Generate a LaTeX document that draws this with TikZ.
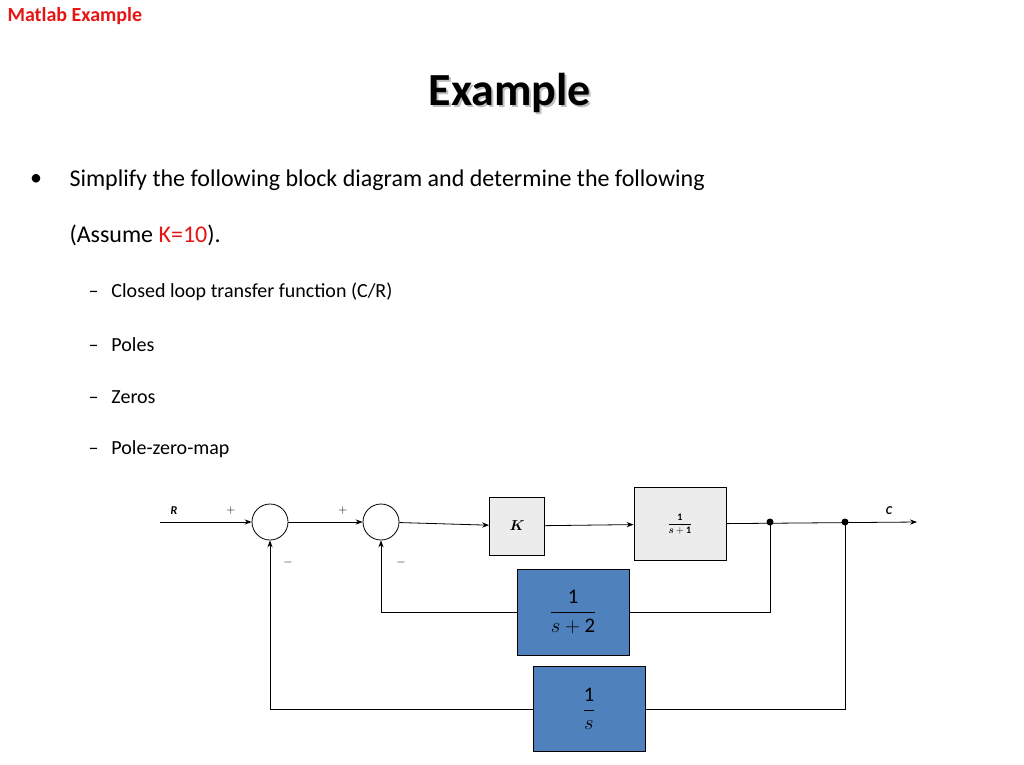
\documentclass[tikz,border=0pt]{standalone}
\usepackage{amsmath,amssymb,bm}
\usepackage{fontspec}
\setmainfont{Carlito}
\usetikzlibrary{arrows.meta}
\definecolor{slideRed}{RGB}{230,20,20}
\definecolor{blockBlue}{RGB}{79,129,189}
\tikzstyle{sumnode} = [circle, draw=black, thick, minimum size=36pt, inner sep=0pt]
\tikzstyle{block} = [rectangle, draw=black, thick, fill=gray!15, inner sep=0pt]
\tikzstyle{bluebox} = [rectangle, draw=black, fill=blockBlue, inner sep=0pt]
\tikzstyle{arrow} = [thick,-{Stealth[length=7pt]}]
\tikzstyle{line} = [thick]
\begin{document}
\begin{tikzpicture}[x=1pt,y=-1pt]
\useasboundingbox (0,0) rectangle (1024,764);
% slide text
\node (tag) [anchor=west, text=slideRed, font=\fontsize{20}{24}\selectfont\bfseries] at (4,16) {Matlab Example};
\node (shadow) [font=\fontsize{46}{50}\selectfont\bfseries, text=gray!50] at (512,95) {Example};
\node (title) [font=\fontsize{46}{50}\selectfont\bfseries] at (510,93) {Example};
\node (bul) [font=\fontsize{24}{28}\selectfont] at (36,180) {•};
\node (line1) [anchor=west, font=\fontsize{24}{28}\selectfont, text width=912pt, align=justify] at (66,180)
  {Simplify the following block diagram and determine the following\hfill\null};
\node (line2) [anchor=west, font=\fontsize{24}{28}\selectfont] at (66,235) {(Assume \textcolor{slideRed}{K=10}).};
\foreach \txt [count=\i] in {Closed loop transfer function (C/R), Poles, Zeros, Pole-zero-map}
  \node (sub\i) [anchor=west, font=\fontsize{20}{24}\selectfont] at (85,{292+52.4*(\i-1)}) {–\hspace{13pt}\txt};
% block diagram
\node (sumA) [sumnode] at (270,522) {};
\node (sumB) [sumnode] at (381,522) {};
\node (gainK) [block, minimum width=55pt, minimum height=58pt] at (517,526) {\Large$\bm{K}$};
\node (plant) [block, minimum width=92pt, minimum height=73pt] at (680,524) {$\displaystyle\frac{\mathbf 1}{\bm{s}+\mathbf 1}$};
\node (fbIn) [bluebox, minimum width=112pt, minimum height=86pt] at (573,612) {\huge$\dfrac{\text{1}}{s+\text{2}}$};
\node (fbOut) [bluebox, minimum width=112pt, minimum height=85pt] at (589,709) {\huge$\dfrac{\text{1}}{s}$};
\coordinate (inR) at (160,522);
\coordinate (outC) at (917,522);
\coordinate (tapA) at (770,522);
\coordinate (tapB) at (845,522);
\fill (tapA) circle (3.5pt) (tapB) circle (3.5pt);
\draw[arrow] (inR) -- (sumA);
\draw[arrow] (sumA) -- (sumB);
\draw[arrow] (sumB) -- (gainK);
\draw[arrow] (gainK) -- (plant);
\draw[arrow] (plant) -- (outC);
\draw[line] (tapA) |- (fbIn.east);
\draw[arrow] (fbIn.west) -| (sumB);
\draw[line] (tapB) |- (fbOut.east);
\draw[arrow] (fbOut.west) -| (sumA);
\node (lblR) [font=\large\bfseries\itshape] at (174,511) {R};
\node (lblC) [font=\large\bfseries\itshape] at (889,511) {C};
\node (pA) at (231,510) {\large$+$};
\node (pB) at (343,510) {\large$+$};
\node (mA) at (288,562) {\large$-$};
\node (mB) at (401,562) {\large$-$};
\end{tikzpicture}
\end{document}
